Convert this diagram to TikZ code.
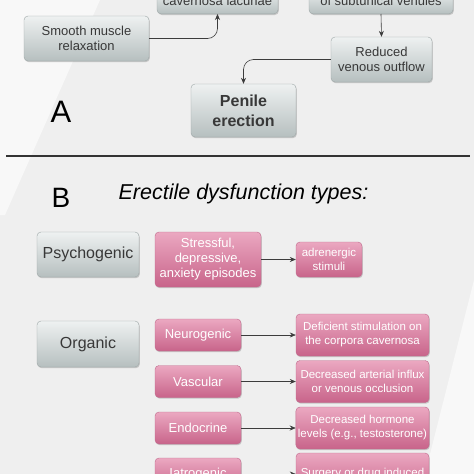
\documentclass[tikz,border=0pt]{standalone}
\usepackage{fontspec}
\setmainfont{Liberation Sans}
\usepackage{tikz}
\usetikzlibrary{
  positioning,
  arrows.meta,
  shadows
}
\definecolor{bggray}{HTML}{EFEFEF}
\definecolor{bglight}{HTML}{F8F8F8}
\definecolor{graytop}{HTML}{EEF1F1}
\definecolor{graybottom}{HTML}{B6BFBF}
\definecolor{grayedge}{HTML}{9EA7A7}
\definecolor{graytext}{HTML}{383838}
\definecolor{pinktop}{HTML}{EBA8C1}
\definecolor{pinkbottom}{HTML}{C8648A}
\definecolor{pinkedge}{HTML}{C06A8C}
\definecolor{conngray}{HTML}{3C3C3C}
\newcommand{\smallfont}{\fontsize{11.5}{14}\selectfont}
\newcommand{\midfont}{\fontsize{13}{15}\selectfont}
\newcommand{\largefont}{\fontsize{16}{19}\selectfont}
\tikzstyle{box}=[rounded corners=4pt, align=center, inner sep=2pt,
  drop shadow={shadow xshift=0.8pt, shadow yshift=-1.2pt, opacity=0.25, fill=black!70}]
\tikzstyle{graybox}=[box, draw=grayedge, top color=graytop, bottom color=graybottom, text=graytext, font=\midfont]
\tikzstyle{pinkbox}=[box, draw=pinkedge, top color=pinktop, bottom color=pinkbottom, text=white, font=\midfont]
\tikzstyle{pinksmall}=[pinkbox, font=\smallfont]
\tikzstyle{conn}=[-{Stealth[length=6pt, width=5pt, inset=2pt]}, draw=conngray, line width=0.6pt]
\tikzstyle{sepline}=[draw=black!80, line width=1.3pt]

\begin{document}
\begin{tikzpicture}[x=1pt, y=-1pt]
    % 背景
    \useasboundingbox (0,0) rectangle (474,474);
    \clip (0,0) rectangle (474,474);
    \fill[bggray] (0,0) rectangle (474,474);
    \fill[bglight] (0,0) -- (100,0) -- (5,215) -- (0,215) -- cycle;
    \fill[bglight] (474,280) -- (474,474) -- (425,474) -- cycle;

    % パネルA
    \node[graybox, minimum width=121pt, minimum height=25pt, anchor=south] (lacunae) at (217.5,14) {cavernosa lacunae};
    \node[graybox, minimum width=144pt, minimum height=25pt, anchor=south] (venules) at (381,14) {of subtunical venules};
    \node[graybox, minimum width=125pt, minimum height=45pt] (smooth) at (86.5,38.5) {Smooth muscle\\relaxation};
    \node[graybox, minimum width=101pt, minimum height=45pt] (reduced) at (381.5,59.5) {Reduced\\venous outflow};
    \node[graybox, minimum width=105pt, minimum height=53pt, font=\fontsize{16}{20}\selectfont\bfseries] (penile) at (243.5,110.5) {Penile\\erection};

    % パネルAの矢印
    \draw[conn, rounded corners=10pt] (smooth.east) -| (lacunae.south);
    \draw[conn] (venules.south) -- (reduced.north);
    \draw[conn, rounded corners=10pt] (reduced.west) -| (penile.north);

    % ラベルA
    \node[font=\fontsize{31}{31}\selectfont] (labelA) at (61,112) {A};

    % 区切り線
    \coordinate (sepL) at (6,156);
    \coordinate (sepR) at (470,156);
    \draw[sepline] (sepL) -- (sepR);

    % パネルB
    \node[font=\fontsize{28}{28}\selectfont] (labelB) at (61,198.3) {B};
    \node[font=\fontsize{21.5}{24}\selectfont\itshape] (title) at (243.5,193.5) {Erectile dysfunction types:};

    % 心因性
    \node[graybox, minimum width=102pt, minimum height=45pt, font=\largefont] (psycho) at (88,254.5) {Psychogenic};
    \node[pinkbox, minimum width=106pt, minimum height=55pt] (stress) at (208,259.5) {Stressful,\\depressive,\\anxiety episodes};
    \node[pinksmall, minimum width=66pt, minimum height=35pt] (adren) at (329,259.5) {adrenergic\\stimuli};
    \draw[conn] (stress) -- (adren);

    % 器質性
    \node[graybox, minimum width=102pt, minimum height=46pt, font=\largefont] (organic) at (88,344) {Organic};

    \node[pinkbox, minimum width=86pt, minimum height=32pt] (neuro) at (198,335) {Neurogenic};
    \node[pinksmall, minimum width=133pt, minimum height=42pt] (deficient) at (362.5,335) {Deficient stimulation on\\the corpora cavernosa};
    \draw[conn] (neuro) -- (deficient);

    \node[pinkbox, minimum width=86pt, minimum height=32pt] (vascular) at (198,381.5) {Vascular};
    \node[pinksmall, minimum width=133pt, minimum height=42pt] (influx) at (362.5,381.5) {Decreased arterial influx\\or venous occlusion};
    \draw[conn] (vascular) -- (influx);

    \node[pinkbox, minimum width=86pt, minimum height=32pt] (endocrine) at (198,428) {Endocrine};
    \node[pinksmall, minimum width=133pt, minimum height=42pt] (hormone) at (362.5,428) {Decreased hormone\\levels (e.g., testosterone)};
    \draw[conn] (endocrine) -- (hormone);

    \node[pinkbox, minimum width=86pt, minimum height=32pt] (iatro) at (198,474) {Iatrogenic};
    \node[pinksmall, minimum width=133pt, minimum height=42pt] (surgery) at (362.5,474) {Surgery or drug induced};
    \draw[conn] (iatro) -- (surgery);
\end{tikzpicture}
\end{document}
